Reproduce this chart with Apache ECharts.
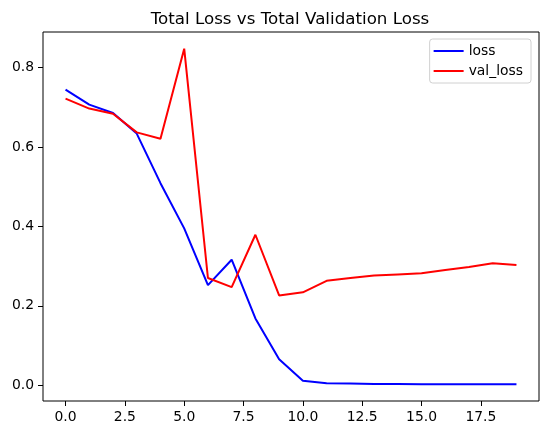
<!DOCTYPE html>
<html>
<head>
<meta charset="utf-8">
<script src="https://cdn.jsdelivr.net/npm/echarts@6/dist/echarts.min.js"></script>
<style>
  html, body { margin: 0; padding: 0; background: #fff; }
  #main { width: 547px; height: 435px; }
</style>
</head>
<body>
<div id="main"></div>
<script>
var epochs = [0, 1, 2, 3, 4, 5, 6, 7, 8, 9, 10, 11, 12, 13, 14, 15, 16, 17, 18, 19];
var loss = [0.745, 0.707, 0.686, 0.634, 0.509, 0.395, 0.252, 0.316, 0.168, 0.065,
            0.011, 0.005, 0.004, 0.003, 0.003, 0.002, 0.002, 0.002, 0.002, 0.002];
var valLoss = [0.722, 0.697, 0.684, 0.637, 0.621, 0.848, 0.270, 0.247, 0.379, 0.226,
               0.234, 0.263, 0.270, 0.276, 0.279, 0.282, 0.290, 0.298, 0.307, 0.303];
var xTicks = [0, 2.5, 5, 7.5, 10, 12.5, 15, 17.5];
var yTicks = [0, 0.2, 0.4, 0.6, 0.8];

function pairs(ys) {
  return epochs.map(function (x, i) { return [x, ys[i]]; });
}

var chart = echarts.init(document.getElementById("main"));
var font = "DejaVu Sans";

var option = {
  animation: false,
  backgroundColor: "#fff",
  title: {
    text: "Total Loss vs Total Validation Loss",
    left: 285,
    top: 6,
    textAlign: "center",
    textStyle: { fontFamily: font, fontSize: 16.7, fontWeight: "normal", color: "#000" }
  },
  grid: {
    left: 43, right: 8, top: 32, bottom: 34,
    show: true, borderColor: "#000", borderWidth: 1, backgroundColor: "#fff"
  },
  legend: {
    orient: "vertical",
    right: 16,
    top: 39,
    icon: "rect",
    itemWidth: 30,
    itemHeight: 2,
    itemGap: 6,
    padding: [5, 8, 5, 4],
    backgroundColor: "#fff",
    borderColor: "#d0d0d0",
    borderWidth: 1,
    borderRadius: 3,
    textStyle: { fontFamily: font, fontSize: 13.9, color: "#000", lineHeight: 14 },
    data: ["loss", "val_loss"]
  },
  xAxis: {
    type: "value",
    min: -0.95,
    max: 19.95,
    splitLine: { show: false },
    axisLine: { show: false, onZero: false },
    axisTick: { show: true, customValues: xTicks, length: 5, lineStyle: { color: "#000" } },
    axisLabel: {
      customValues: xTicks, margin: 9,
      fontFamily: font, fontSize: 13.9, color: "#000",
      formatter: function (v) { return v.toFixed(1); }
    }
  },
  yAxis: {
    type: "value",
    min: -0.04,
    max: 0.89,
    splitLine: { show: false },
    axisLine: { show: false, onZero: false },
    axisTick: { show: true, customValues: yTicks, length: 5, lineStyle: { color: "#000" } },
    axisLabel: {
      customValues: yTicks, margin: 9,
      fontFamily: font, fontSize: 13.9, color: "#000",
      formatter: function (v) { return v.toFixed(1); }
    }
  },
  series: [
    {
      name: "loss",
      type: "line",
      data: pairs(loss),
      symbol: "none",
      color: "#0000ff",
      lineStyle: { width: 2, color: "#0000ff" }
    },
    {
      name: "val_loss",
      type: "line",
      data: pairs(valLoss),
      symbol: "none",
      color: "#ff0000",
      lineStyle: { width: 2, color: "#ff0000" }
    }
  ]
};

if (option && typeof option === "object") {
  chart.setOption(option, true);
}
</script>
</body>
</html>
